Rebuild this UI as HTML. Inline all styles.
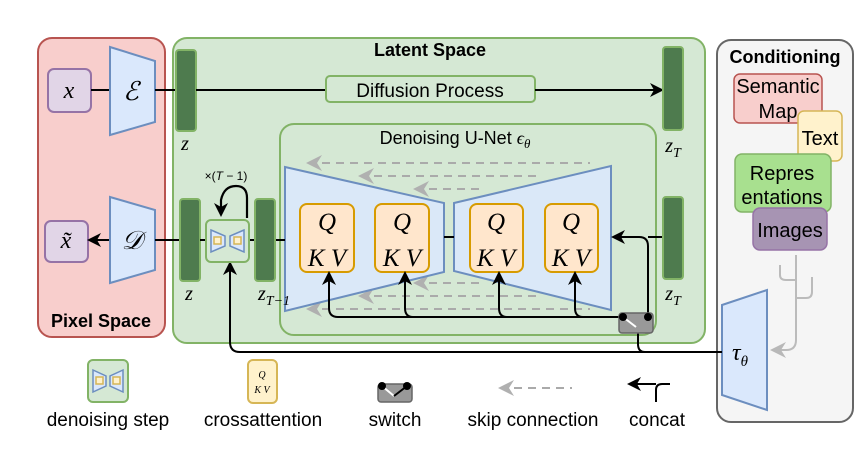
<!DOCTYPE html>
<html><head><meta charset="utf-8"><style>
html,body{margin:0;padding:0;background:#fff;}
svg{display:block;}
text{font-family:"Liberation Sans",sans-serif;}
.m{font-family:"Liberation Serif",serif;font-style:italic;}
</style></head><body>
<svg width="866" height="450" viewBox="0 0 866 450" xmlns="http://www.w3.org/2000/svg">
<defs>
<marker id="ahb" markerWidth="14" markerHeight="14" refX="11" refY="7" orient="auto" markerUnits="userSpaceOnUse"><path d="M0,0 L14,7 L0,14 L4,7 Z" fill="#000"/></marker>
<marker id="ag" markerWidth="16" markerHeight="16" refX="2" refY="8" orient="auto" markerUnits="userSpaceOnUse"><path d="M16,0 L0,8 L16,16 L11,8 Z" fill="#b0b0b0"/></marker>
<marker id="age" markerWidth="16" markerHeight="16" refX="14" refY="8" orient="auto" markerUnits="userSpaceOnUse"><path d="M0,0 L16,8 L0,16 L5,8 Z" fill="#b8b8b8"/></marker>
</defs>

<rect x="38" y="38" width="127" height="299" rx="14" fill="#f8cecc" stroke="#b85450" stroke-width="2"/>
<text x="101" y="327" font-size="18" font-weight="bold" text-anchor="middle">Pixel Space</text>

<rect x="173" y="38" width="532" height="305" rx="14" fill="#d5e8d4" stroke="#82b366" stroke-width="2"/>
<text x="430" y="56" font-size="18" font-weight="bold" text-anchor="middle">Latent Space</text>

<rect x="717" y="40" width="136" height="382" rx="14" fill="#f5f5f5" stroke="#666" stroke-width="2"/>
<text x="785" y="63" font-size="18" font-weight="bold" text-anchor="middle">Conditioning</text>
<rect x="734" y="74" width="88" height="49" rx="6" fill="#f8cecc" stroke="#b85450" stroke-width="1.5"/>
<text x="778" y="93" font-size="20" text-anchor="middle">Semantic</text>
<text x="778" y="118" font-size="20" text-anchor="middle">Map</text>
<rect x="798" y="111" width="44" height="50" rx="6" fill="#fff2cc" stroke="#d6b656" stroke-width="1.5"/>
<text x="820" y="145" font-size="20" text-anchor="middle">Text</text>
<rect x="735" y="154" width="96" height="58" rx="7" fill="#a8e08f" stroke="#82b366" stroke-width="1.5"/>
<text x="782" y="180" font-size="20" text-anchor="middle">Repres</text>
<text x="782" y="204" font-size="20" text-anchor="middle">entations</text>
<rect x="753" y="208" width="74" height="42" rx="7" fill="#a794b3" stroke="#9673a6" stroke-width="1.5"/>
<text x="790" y="237" font-size="20" text-anchor="middle">Images</text>
<path d="M780,265 V275 Q780,280 786,280 H796 V340 Q796,350 786,350 H772" fill="none" stroke="#bbb" stroke-width="2" marker-end="url(#age)"/>
<path d="M796,255 V290" fill="none" stroke="#bbb" stroke-width="2"/>
<path d="M812,277 V292 Q812,298 806,298 H796" fill="none" stroke="#bbb" stroke-width="2"/>
<polygon points="722,305 767,290 767,410 722,395" fill="#dae8fc" stroke="#6c8ebf" stroke-width="2"/>
<text x="740" y="360" class="m" font-size="24" text-anchor="middle">τ<tspan font-size="15" dy="6">θ</tspan></text>

<rect x="48" y="69" width="43" height="43" rx="6" fill="#e1d5e7" stroke="#9673a6" stroke-width="2"/>
<text x="69" y="98" class="m" font-size="24" text-anchor="middle">x</text>
<line x1="91" y1="90" x2="110" y2="90" stroke="#000" stroke-width="2"/>
<polygon points="110,47 155,61 155,122 110,135" fill="#dae8fc" stroke="#6c8ebf" stroke-width="2"/>
<text x="131" y="100" font-family="Liberation Serif,serif" font-style="italic" font-size="26" text-anchor="middle">ℰ</text>
<line x1="155" y1="90" x2="176" y2="90" stroke="#000" stroke-width="2"/>
<rect x="176" y="50" width="20" height="81" rx="3" fill="#4e7b4e" stroke="#82b366" stroke-width="2"/>
<text x="185" y="150" class="m" font-size="20" text-anchor="middle">z</text>
<line x1="196" y1="90" x2="326" y2="90" stroke="#000" stroke-width="2"/>
<rect x="326" y="76" width="209" height="26" rx="4" fill="#d5e8d4" stroke="#82b366" stroke-width="2"/>
<text x="430" y="97" font-size="19" text-anchor="middle">Diffusion Process</text>
<line x1="535" y1="90" x2="661" y2="90" stroke="#000" stroke-width="2" marker-end="url(#ahb)"/>
<rect x="663" y="47" width="20" height="83" rx="3" fill="#4e7b4e" stroke="#82b366" stroke-width="2"/>
<text x="673" y="152" class="m" font-size="20" text-anchor="middle">z<tspan font-size="14" dy="5">T</tspan></text>

<rect x="280" y="124" width="376" height="211" rx="14" fill="#d5e8d4" stroke="#82b366" stroke-width="2"/>
<text x="455" y="144" font-size="18" text-anchor="middle">Denoising U-Net <tspan class="m">ϵ</tspan><tspan class="m" font-size="13" dy="4">θ</tspan></text>

<g stroke="#aaa" stroke-width="2" stroke-dasharray="8,6" fill="none">
<line x1="308" y1="163" x2="590" y2="163" marker-start="url(#ag)"/>
<line x1="360" y1="176" x2="540" y2="176" marker-start="url(#ag)"/>
<line x1="415" y1="189" x2="485" y2="189" marker-start="url(#ag)"/>
<line x1="308" y1="309" x2="590" y2="309" marker-start="url(#ag)"/>
<line x1="360" y1="296" x2="540" y2="296" marker-start="url(#ag)"/>
<line x1="415" y1="283" x2="485" y2="283" marker-start="url(#ag)"/>
</g>

<polygon points="285,167 444,203 444,272 285,311" fill="#dae8fc" stroke="#6c8ebf" stroke-width="2" fill-opacity="0.9"/>
<polygon points="454,203 611,166 611,310 454,271" fill="#dae8fc" stroke="#6c8ebf" stroke-width="2" fill-opacity="0.9"/>
<line x1="444" y1="237" x2="454" y2="237" stroke="#000" stroke-width="2"/>

<g fill="#ffe6cc" stroke="#d79b00" stroke-width="2">
<rect x="300" y="204" width="54" height="68" rx="7"/>
<rect x="375" y="204" width="54" height="68" rx="7"/>
<rect x="470" y="204" width="53" height="68" rx="7"/>
<rect x="545" y="204" width="53" height="68" rx="7"/>
</g>
<g font-size="25" text-anchor="middle">
<text x="327" y="230" class="m">Q</text><text x="327" y="266" class="m">K V</text>
<text x="402" y="230" class="m">Q</text><text x="402" y="266" class="m">K V</text>
<text x="496" y="230" class="m">Q</text><text x="496" y="266" class="m">K V</text>
<text x="571" y="230" class="m">Q</text><text x="571" y="266" class="m">K V</text>
</g>

<g fill="none" stroke="#000" stroke-width="2">
<path d="M623,317 H338 Q329,317 329,308 V274" marker-end="url(#ahb)"/>
<path d="M413,317 Q405,317 405,308 V274" marker-end="url(#ahb)"/>
<path d="M507,317 Q499,317 499,308 V274" marker-end="url(#ahb)"/>
<path d="M583,317 Q575,317 575,308 V274" marker-end="url(#ahb)"/>
<path d="M648,317 V246 Q648,237 639,237 H614" marker-end="url(#ahb)"/>
<line x1="663" y1="237" x2="648" y2="237"/>
<path d="M722,352 H645 Q638,352 638,344 V328 L648,317"/>
<path d="M645,352 H240 Q230,352 230,342 V264" marker-end="url(#ahb)"/>
</g>
<rect x="619" y="313" width="34" height="20" rx="3" fill="#999" stroke="#666" stroke-width="1.5"/>
<line x1="623" y1="317" x2="636" y2="327" stroke="#fff" stroke-width="2"/>
<circle cx="623" cy="317" r="4" fill="#000"/>
<circle cx="648" cy="317" r="4" fill="#000"/>

<rect x="663" y="197" width="20" height="82" rx="3" fill="#4e7b4e" stroke="#82b366" stroke-width="2"/>
<text x="673" y="300" class="m" font-size="20" text-anchor="middle">z<tspan font-size="14" dy="5">T</tspan></text>

<rect x="45" y="221" width="43" height="41" rx="6" fill="#e1d5e7" stroke="#9673a6" stroke-width="2"/>
<text x="66" y="248" class="m" font-size="24" text-anchor="middle">x̃</text>
<line x1="110" y1="240" x2="90" y2="240" stroke="#000" stroke-width="2" marker-end="url(#ahb)"/>
<polygon points="110,197 155,210 155,270 110,283" fill="#dae8fc" stroke="#6c8ebf" stroke-width="2"/>
<text x="132" y="249" font-family="Liberation Serif,serif" font-style="italic" font-size="26" text-anchor="middle">𝒟</text>
<line x1="155" y1="240" x2="180" y2="240" stroke="#000" stroke-width="2"/>
<rect x="180" y="199" width="20" height="82" rx="3" fill="#4e7b4e" stroke="#82b366" stroke-width="2"/>
<text x="189" y="300" class="m" font-size="20" text-anchor="middle">z</text>
<line x1="200" y1="240" x2="206" y2="240" stroke="#000" stroke-width="2"/>
<line x1="249" y1="240" x2="255" y2="240" stroke="#000" stroke-width="2"/>
<line x1="275" y1="240" x2="285" y2="240" stroke="#000" stroke-width="2"/>
<rect x="255" y="199" width="20" height="82" rx="3" fill="#4e7b4e" stroke="#82b366" stroke-width="2"/>
<text x="258" y="300" class="m" font-size="20">z<tspan font-size="14" dy="5">T−1</tspan></text>
<rect x="206" y="220" width="43" height="42" rx="5" fill="#d5e8d4" stroke="#82b366" stroke-width="2"/>
<polygon points="211,230 225,236 225,246 211,252" fill="#dae8fc" stroke="#6c8ebf" stroke-width="1.5"/>
<polygon points="244,230 230,236 230,246 244,252" fill="#dae8fc" stroke="#6c8ebf" stroke-width="1.5"/>
<rect x="214" y="237" width="7" height="7" fill="#fff2cc" stroke="#d6b656" stroke-width="1.5"/>
<rect x="234" y="237" width="7" height="7" fill="#fff2cc" stroke="#d6b656" stroke-width="1.5"/>
<path d="M247,218 V198 Q247,186 236,186 Q224,186 221,200 V214" fill="none" stroke="#000" stroke-width="2.2" marker-end="url(#ahb)"/>
<text x="226" y="180" font-family="Liberation Serif,serif" font-size="12" text-anchor="middle">×(<tspan font-style="italic">T</tspan> − 1)</text>

<rect x="88" y="360" width="40" height="42" rx="5" fill="#d5e8d4" stroke="#82b366" stroke-width="2"/>
<polygon points="93,370 106,376 106,386 93,392" fill="#dae8fc" stroke="#6c8ebf" stroke-width="1.5"/>
<polygon points="123,370 110,376 110,386 123,392" fill="#dae8fc" stroke="#6c8ebf" stroke-width="1.5"/>
<rect x="96" y="377" width="7" height="7" fill="#fff2cc" stroke="#d6b656" stroke-width="1.5"/>
<rect x="113" y="377" width="7" height="7" fill="#fff2cc" stroke="#d6b656" stroke-width="1.5"/>
<text x="108" y="426" font-size="19" text-anchor="middle">denoising step</text>

<rect x="248" y="360" width="29" height="43" rx="5" fill="#fff2cc" stroke="#d6b656" stroke-width="2"/>
<text x="262" y="378" class="m" font-size="10" text-anchor="middle">Q</text>
<text x="262" y="393" class="m" font-size="10" text-anchor="middle">K V</text>
<text x="263" y="426" font-size="19" text-anchor="middle">crossattention</text>

<rect x="378" y="384" width="34" height="18" rx="3" fill="#999" stroke="#666" stroke-width="1.5"/>
<line x1="382" y1="386" x2="394" y2="396" stroke="#fff" stroke-width="2"/>
<line x1="394" y1="396" x2="407" y2="386" stroke="#000" stroke-width="2"/>
<circle cx="382" cy="386" r="4" fill="#000"/>
<circle cx="407" cy="386" r="4" fill="#000"/>
<text x="395" y="426" font-size="19" text-anchor="middle">switch</text>

<line x1="500" y1="388" x2="572" y2="388" stroke="#aaa" stroke-width="2" stroke-dasharray="8,6" marker-start="url(#ag)"/>
<text x="533" y="426" font-size="19" text-anchor="middle">skip connection</text>

<path d="M656,402 V390 Q656,384 662,384 H670" fill="none" stroke="#000" stroke-width="2"/>
<line x1="656" y1="384" x2="630" y2="384" stroke="#000" stroke-width="2" marker-end="url(#ahb)"/>
<text x="657" y="426" font-size="19" text-anchor="middle">concat</text>
</svg>
</body></html>
